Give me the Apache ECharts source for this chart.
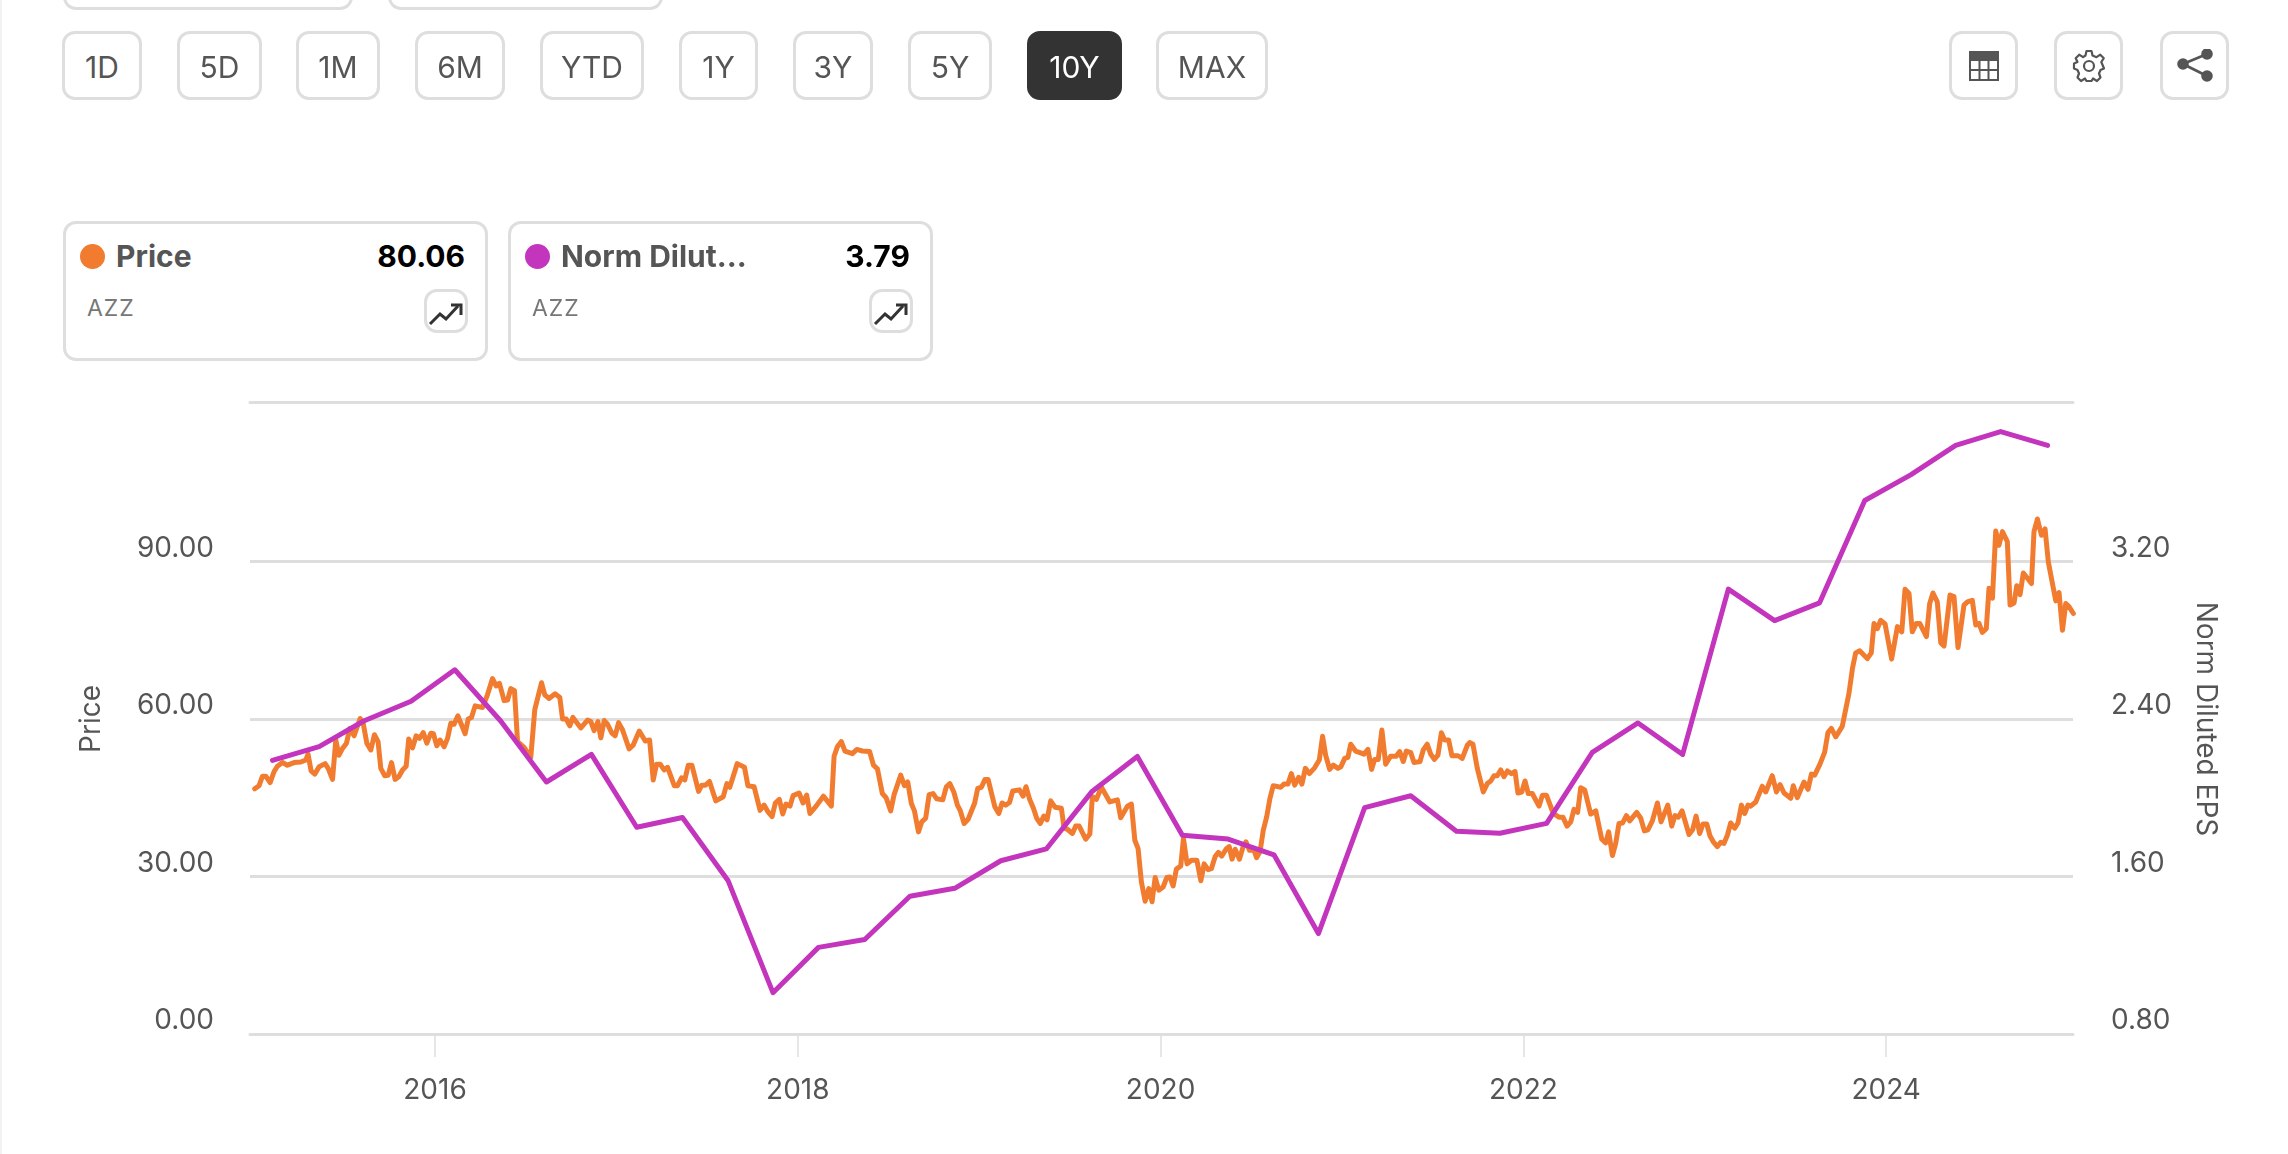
<!DOCTYPE html>
<html>
<head>
<meta charset="utf-8">
<title>AZZ Price and Norm Diluted EPS</title>
<script src="https://cdn.jsdelivr.net/npm/echarts@6/dist/echarts.min.js"></script>
<style>
  html, body { margin: 0; padding: 0; background: #fff; width: 2288px; height: 1154px; overflow: hidden; }
  body { position: relative; font-family: Inter, "Liberation Sans", sans-serif; color: #555; border-left: 2px solid #f2f2f2; box-sizing: border-box; }
  .box { position: absolute; box-sizing: border-box; border: 3px solid #dedede; border-radius: 13px; background: #fff; }
  .btn { top: 31px; height: 69px; display: flex; align-items: center; justify-content: center; font-size: 30px; padding-top: 2px; }
  .btn.on { background: #333; border-color: #333; color: #fff; }
  .dot { position: absolute; width: 25px; height: 25px; border-radius: 50%; top: 244px; }
  .txt { position: absolute; white-space: nowrap; }
  #chart { position: absolute; left: -2px; top: 0; width: 2288px; height: 1154px; }
</style>
</head>
<body>
<div id="chart"></div>
<div id="ui"></div>
<script>
const priceYears = [
  2015.006, 2015.030, 2015.049, 2015.067, 2015.091, 2015.113, 2015.131, 2015.159, 2015.186, 2015.223, 2015.260, 2015.288,
  2015.300, 2015.317, 2015.337, 2015.361, 2015.394, 2015.411, 2015.435, 2015.453, 2015.470, 2015.490, 2015.512, 2015.530,
  2015.554, 2015.587, 2015.604, 2015.624, 2015.646, 2015.666, 2015.686, 2015.701, 2015.723, 2015.742, 2015.760, 2015.780,
  2015.800, 2015.821, 2015.841, 2015.855, 2015.876, 2015.896, 2015.914, 2015.935, 2015.955, 2015.977, 2015.991,
  2016.010, 2016.028, 2016.050, 2016.069, 2016.087, 2016.105, 2016.126, 2016.146, 2016.166, 2016.183, 2016.201, 2016.221,
  2016.262, 2016.289, 2016.317, 2016.337, 2016.355, 2016.381, 2016.400, 2016.418, 2016.438, 2016.455, 2016.491, 2016.528,
  2016.550, 2016.587, 2016.605, 2016.629, 2016.662, 2016.688, 2016.703, 2016.723, 2016.743, 2016.760, 2016.804, 2016.841,
  2016.859, 2016.877, 2016.898, 2016.914, 2016.933, 2016.951, 2016.975, 2016.993,
  2017.012, 2017.034, 2017.070, 2017.092, 2017.126, 2017.159, 2017.183, 2017.203, 2017.221, 2017.241, 2017.263, 2017.282,
  2017.319, 2017.337, 2017.359, 2017.377, 2017.396, 2017.416, 2017.453, 2017.471, 2017.491, 2017.513, 2017.548, 2017.589,
  2017.609, 2017.625, 2017.666, 2017.706, 2017.725, 2017.759, 2017.792, 2017.814, 2017.836, 2017.858, 2017.876, 2017.898,
  2017.917, 2017.935, 2017.957, 2017.974,
  2018.007, 2018.029, 2018.049, 2018.067, 2018.101, 2018.141, 2018.185, 2018.200, 2018.218, 2018.240, 2018.260, 2018.301,
  2018.325, 2018.356, 2018.396, 2018.417, 2018.439, 2018.466, 2018.487, 2018.512, 2018.531, 2018.567, 2018.588, 2018.606,
  2018.626, 2018.643, 2018.665, 2018.683, 2018.705, 2018.724, 2018.746, 2018.766, 2018.799, 2018.819, 2018.838, 2018.860,
  2018.880, 2018.895, 2018.917, 2018.939, 2018.975, 2018.992,
  2019.012, 2019.032, 2019.049, 2019.086, 2019.108, 2019.126, 2019.146, 2019.167, 2019.185, 2019.222, 2019.242, 2019.258,
  2019.279, 2019.299, 2019.317, 2019.337, 2019.356, 2019.374, 2019.394, 2019.418, 2019.453, 2019.468, 2019.486, 2019.514,
  2019.532, 2019.551, 2019.587, 2019.610, 2019.624, 2019.646, 2019.674, 2019.720, 2019.762, 2019.780, 2019.817, 2019.839,
  2019.858, 2019.876, 2019.894, 2019.915, 2019.935, 2019.953, 2019.970, 2019.990,
  2020.014, 2020.034, 2020.052, 2020.069, 2020.087, 2020.111, 2020.126, 2020.146, 2020.170, 2020.200, 2020.222, 2020.240,
  2020.262, 2020.280, 2020.301, 2020.319, 2020.337, 2020.363, 2020.378, 2020.394, 2020.411, 2020.435, 2020.455, 2020.471,
  2020.490, 2020.515, 2020.529, 2020.548, 2020.566, 2020.585, 2020.603, 2020.621, 2020.662, 2020.680, 2020.702, 2020.721,
  2020.739, 2020.761, 2020.779, 2020.798, 2020.820, 2020.849, 2020.875, 2020.893, 2020.910, 2020.932, 2020.952, 2020.978, 2020.994,
  2021.015, 2021.033, 2021.048, 2021.075, 2021.099, 2021.121, 2021.143, 2021.163, 2021.180, 2021.200, 2021.220, 2021.241,
  2021.268, 2021.299, 2021.318, 2021.338, 2021.355, 2021.379, 2021.397, 2021.430, 2021.448, 2021.470, 2021.489, 2021.509,
  2021.529, 2021.548, 2021.566, 2021.588, 2021.606, 2021.640, 2021.663, 2021.691, 2021.704, 2021.722, 2021.746, 2021.779,
  2021.801, 2021.820, 2021.838, 2021.856, 2021.875, 2021.893, 2021.912, 2021.934, 2021.954, 2021.970, 2021.991,
  2022.009, 2022.027, 2022.049, 2022.086, 2022.105, 2022.127, 2022.165, 2022.196, 2022.218, 2022.241, 2022.261, 2022.279,
  2022.299, 2022.316, 2022.338, 2022.371, 2022.399, 2022.432, 2022.454, 2022.470, 2022.491, 2022.509, 2022.527, 2022.547,
  2022.568, 2022.586, 2022.625, 2022.647, 2022.667, 2022.687, 2022.711, 2022.739, 2022.759, 2022.796, 2022.818, 2022.836,
  2022.854, 2022.875, 2022.913, 2022.933, 2022.952, 2022.972, 2022.990,
  2023.011, 2023.029, 2023.047, 2023.069, 2023.088, 2023.106, 2023.125, 2023.143, 2023.165, 2023.183, 2023.202, 2023.220,
  2023.238, 2023.253, 2023.281, 2023.317, 2023.336, 2023.372, 2023.395, 2023.415, 2023.437, 2023.474, 2023.488, 2023.510,
  2023.547, 2023.569, 2023.588, 2023.606, 2023.635, 2023.661, 2023.679, 2023.698, 2023.722, 2023.758, 2023.795, 2023.814,
  2023.832, 2023.854, 2023.896, 2023.918, 2023.933, 2023.951, 2023.970, 2023.994,
  2024.030, 2024.062, 2024.086, 2024.104, 2024.126, 2024.144, 2024.166, 2024.185, 2024.222, 2024.240, 2024.258, 2024.282,
  2024.301, 2024.319, 2024.352, 2024.374, 2024.396, 2024.429, 2024.448, 2024.475, 2024.494, 2024.512, 2024.530, 2024.552,
  2024.567, 2024.586, 2024.604, 2024.622, 2024.641, 2024.668, 2024.683, 2024.705, 2024.720, 2024.738, 2024.756, 2024.779,
  2024.801, 2024.815, 2024.834, 2024.856, 2024.876, 2024.894, 2024.935, 2024.953, 2024.972, 2024.990,
  2025.008, 2025.032
]
const priceValues = [
  46.7, 47.3, 49.1, 49.1, 47.9, 50.0, 51.0, 51.7, 51.2, 51.7, 51.8, 52.2,
  53.3, 50.1, 49.5, 50.9, 51.5, 50.6, 48.5, 56.0, 53.1, 54.4, 55.4, 58.2,
  56.8, 60.1, 59.2, 55.4, 54.1, 57.0, 55.7, 50.6, 49.2, 49.3, 51.7, 48.5,
  49.0, 50.3, 51.0, 56.2, 54.5, 56.8, 56.3, 57.4, 55.4, 57.3, 57.2,
  54.9, 56.0, 54.7, 56.3, 59.2, 59.0, 60.6, 58.9, 57.2, 60.0, 60.3, 62.5,
  62.2, 64.6, 67.7, 66.3, 66.8, 63.5, 63.6, 65.8, 65.4, 55.7, 54.6, 52.7,
  61.8, 66.9, 64.6, 63.9, 64.8, 64.1, 60.0, 60.0, 58.7, 60.3, 58.3, 59.8,
  59.5, 57.8, 59.5, 56.4, 59.7, 59.0, 57.3, 56.8,
  59.3, 57.9, 54.3, 55.0, 57.7, 55.8, 56.0, 48.4, 51.4, 51.4, 50.3, 50.8,
  47.3, 47.3, 48.8, 48.4, 51.2, 51.2, 46.2, 47.4, 47.4, 48.1, 44.4, 45.2,
  47.7, 47.0, 51.5, 50.8, 47.3, 47.1, 42.6, 43.6, 42.3, 41.4, 44.0, 44.7,
  41.9, 43.8, 43.4, 45.4,
  45.9, 44.0, 45.5, 42.0, 43.4, 45.3, 43.4, 52.9, 54.7, 55.7, 53.9, 53.4,
  54.2, 53.9, 53.8, 51.2, 50.5, 45.8, 45.0, 42.5, 45.6, 49.3, 47.3, 48.0,
  43.9, 42.5, 38.5, 40.4, 41.1, 45.6, 45.8, 44.8, 44.6, 47.1, 47.7, 46.1,
  43.6, 42.6, 40.1, 40.9, 44.0, 46.8,
  47.0, 48.5, 48.5, 43.3, 42.0, 44.0, 43.6, 44.1, 46.3, 46.5, 45.3, 47.1,
  44.6, 43.0, 41.1, 40.1, 41.5, 40.8, 44.4, 43.2, 43.0, 39.2, 39.0, 38.2,
  39.6, 39.6, 37.1, 38.1, 45.2, 44.7, 47.0, 44.2, 44.6, 41.2, 43.4, 43.8,
  36.9, 35.3, 29.0, 25.3, 27.7, 25.2, 29.8, 27.4,
  28.0, 29.8, 29.9, 28.2, 31.4, 32.0, 37.2, 32.4, 33.1, 33.1, 29.2, 32.4,
  31.3, 31.5, 33.8, 34.6, 33.9, 35.3, 35.7, 33.3, 35.2, 33.3, 35.7, 36.6,
  35.0, 35.0, 33.6, 34.7, 38.8, 41.4, 44.9, 47.3, 47.0, 47.6, 47.6, 49.6,
  47.4, 48.9, 47.6, 50.6, 49.6, 50.7, 52.2, 56.7, 53.1, 50.4, 51.2, 50.6, 50.9,
  52.5, 52.7, 55.2, 53.9, 53.6, 53.3, 54.2, 50.4, 52.3, 52.3, 57.9, 51.4,
  52.9, 52.9, 53.8, 51.9, 53.9, 53.6, 51.7, 51.9, 54.1, 55.2, 53.3, 52.3,
  53.1, 57.4, 56.0, 56.0, 53.0, 53.0, 52.5, 55.0, 55.5, 55.2, 50.6, 46.1,
  47.7, 48.2, 49.2, 49.2, 50.3, 49.0, 50.1, 49.6, 50.0, 45.9, 46.1,
  48.2, 45.8, 45.8, 43.4, 45.5, 45.5, 42.0, 41.3, 41.3, 39.6, 40.4, 42.8,
  42.2, 46.9, 46.5, 41.9, 42.5, 37.1, 36.4, 38.5, 34.0, 36.3, 40.1, 40.2,
  41.6, 40.6, 42.2, 41.1, 38.7, 38.9, 40.6, 44.0, 40.4, 43.6, 39.6, 41.6,
  41.3, 42.5, 38.0, 38.9, 41.5, 38.2, 40.0,
  40.0, 37.7, 36.6, 35.7, 36.5, 36.3, 37.9, 40.2, 39.2, 40.2, 43.6, 42.0,
  43.6, 43.4, 44.2, 47.2, 46.1, 49.2, 46.1, 47.5, 45.9, 44.9, 47.3, 45.0,
  48.0, 46.6, 49.5, 49.3, 51.4, 53.7, 57.4, 58.2, 56.6, 58.6, 64.9, 69.6,
  72.6, 73.0, 71.5, 72.6, 78.2, 77.2, 78.8, 78.1,
  71.4, 77.6, 76.6, 84.7, 83.9, 76.6, 78.2, 78.2, 75.7, 82.0, 84.0, 82.3,
  74.5, 73.9, 83.6, 83.3, 73.6, 81.7, 82.3, 82.6, 77.9, 78.2, 76.5, 77.2,
  84.9, 83.0, 95.8, 93.1, 95.7, 93.8, 81.7, 82.1, 85.4, 83.7, 87.8, 86.8,
  85.8, 95.7, 98.1, 95.0, 96.2, 89.9, 82.5, 84.1, 76.9, 82.0,
  81.4, 80.1
]
const epsYears = [
  2015.104, 2015.361, 2015.607, 2015.868, 2016.109, 2016.362, 2016.614, 2016.862,
  2017.112, 2017.364, 2017.615, 2017.863, 2018.114, 2018.369, 2018.618, 2018.865,
  2019.119, 2019.370, 2019.620, 2019.872, 2020.120, 2020.372, 2020.625, 2020.870,
  2021.125, 2021.379, 2021.631, 2021.871, 2022.128, 2022.380, 2022.632, 2022.878,
  2023.130, 2023.385, 2023.633, 2023.882, 2024.135, 2024.383, 2024.631, 2024.890
]
const epsValues = [
  2.19, 2.26, 2.39, 2.49, 2.65, 2.39, 2.08, 2.22,
  1.85, 1.90, 1.58, 1.01, 1.24, 1.28, 1.50, 1.54,
  1.68, 1.74, 2.03, 2.21, 1.81, 1.79, 1.71, 1.31,
  1.95, 2.01, 1.83, 1.82, 1.87, 2.23, 2.38, 2.22,
  3.06, 2.90, 2.99, 3.51, 3.64, 3.79, 3.86, 3.79
]
const yearTicks = [2016, 2018, 2020, 2022, 2024]
const rangeButtons = ['1D', '5D', '1M', '6M', 'YTD', '1Y', '3Y', '5Y', '10Y', 'MAX']
const activeRange = '10Y'

const orange = '#f17c30'
const purple = '#c335bd'
const gridColor = '#dedede'
const textColor = '#555'

// page chrome around the chart
const ui = document.getElementById('ui')
const buttonEdges = [[62, 142], [177, 262], [296, 380], [415, 505], [540, 644], [679, 758], [793, 873], [908, 992], [1027, 1122], [1156, 1268]]
const trendIcon = '<svg width="38" height="39" viewBox="0 0 38 39" fill="none" stroke="#333" stroke-width="3" style="position:absolute;left:0;top:0"><path d="M3 32 L13 22 L19 27 L31 14"/><path d="M24 13 H34 V23"/></svg>'

function add(html) {
  ui.insertAdjacentHTML('beforeend', html)
}

add('<div class="box" style="left:61px;top:-40px;width:290px;height:50px"></div>')
add('<div class="box" style="left:386px;top:-40px;width:275px;height:50px"></div>')

rangeButtons.forEach((label, i) => {
  const [a, b] = buttonEdges[i]
  const cls = label === activeRange ? 'box btn on' : 'box btn'
  add(`<div class="${cls}" style="left:${a - 2}px;width:${b - a}px">${label}</div>`)
})

function card(left, width, color, name, value) {
  add(`<div class="box" style="left:${left - 2}px;top:221px;width:${width}px;height:140px"></div>`)
  add(`<div class="dot" style="left:${left + 15}px;background:${color}"></div>`)
  add(`<div class="txt" style="left:${left + 51}px;top:238px;font-size:30px;font-weight:700;line-height:36px">${name}</div>`)
  add(`<div class="txt" style="left:${left + width - 23 - 200 - 2}px;width:200px;text-align:right;top:238px;font-size:30px;font-weight:700;line-height:36px;color:#000">${value}</div>`)
  add(`<div class="txt" style="left:${left + 22}px;top:294px;font-size:23px;letter-spacing:1px;line-height:28px;color:#777">AZZ</div>`)
  add(`<div class="box" style="left:${left + width - 66}px;top:289px;width:44px;height:44px">${trendIcon}</div>`)
}
card(63, 425, orange, 'Price', '80.06')
card(508, 425, purple, 'Norm Dilut...', '3.79')

function iconBox(left, svg) {
  add(`<div class="box btn" style="left:${left - 2}px;width:69px;padding-top:0">${svg}</div>`)
}
iconBox(1949, '<svg width="30" height="30" viewBox="0 0 30 30" fill="none" stroke="#555" stroke-width="2"><rect x="1" y="1" width="28" height="28"/><rect x="1" y="1" width="28" height="8" fill="#555"/><path d="M10.5 9 V29 M19.5 9 V29 M1 19 H29"/></svg>')
iconBox(2054, '<svg width="34" height="34" viewBox="0 0 34 34" fill="none" stroke="#555" stroke-width="2.2" stroke-linejoin="round"><circle cx="17" cy="17" r="5"/><path d="M14.5 2 H19.5 L20.5 6.5 L24.5 8.2 L28.3 5.7 L31.8 9.2 L29.3 13 L31 17 L32 19.5 L28.5 21 L27 24.5 L28.5 28.5 L25 32 L21 29.5 L19.5 32 H14.5 L13 29.5 L9 32 L5.5 28.5 L7 24.5 L5.5 21 L2 19.5 V14.5 L5.5 13 L3.7 9.2 L7.2 5.7 L11 8.2 L13.5 6.5 Z"/></svg>')
iconBox(2160, '<svg width="36" height="34" viewBox="0 0 36 34" fill="#555" stroke="#555" stroke-width="2.6"><path d="M6 15 L30 5 M6 15 L30 27" fill="none"/><circle cx="6" cy="15" r="4.5"/><circle cx="30" cy="5" r="4.5"/><circle cx="30" cy="27" r="4.5"/></svg>')

// chart
const chart = echarts.init(document.getElementById('chart'), null, { renderer: 'canvas' })
const axisText = { color: textColor, fontSize: 28, fontFamily: 'Inter' }
const nameText = { color: textColor, fontSize: 28, fontFamily: 'Inter' }

chart.setOption({
  animation: false,
  grid: { left: 250, top: 404, width: 1823, height: 630 },
  xAxis: [
    {
      type: 'value',
      min: 2014.98,
      max: 2025.03,
      splitLine: { show: false },
      axisLine: { lineStyle: { color: gridColor, width: 3 } },
      axisTick: { customValues: yearTicks, length: 23, lineStyle: { color: gridColor, width: 1.5 } },
      axisLabel: { ...axisText, customValues: yearTicks, margin: 43, formatter: v => String(Math.round(v)) }
    },
    {
      // the top rule sits slightly above the 120 level
      type: 'value',
      position: 'top',
      offset: 2,
      min: 2014.98,
      max: 2025.03,
      splitLine: { show: false },
      axisLine: { lineStyle: { color: gridColor, width: 3 } },
      axisTick: { show: false },
      axisLabel: { show: false }
    }
  ],
  yAxis: [
    {
      type: 'value',
      name: 'Price',
      nameLocation: 'middle',
      nameGap: 144,
      nameTextStyle: nameText,
      min: 0,
      max: 120,
      interval: 30,
      axisLine: { show: false },
      axisTick: { show: false },
      splitLine: { showMaxLine: false, showMinLine: false, lineStyle: { color: gridColor, width: 3 } },
      axisLabel: { ...axisText, margin: 36, verticalAlign: 'bottom', lineHeight: 26, showMaxLabel: false, formatter: v => v.toFixed(2) }
    },
    {
      type: 'value',
      name: 'Norm Diluted EPS',
      nameLocation: 'middle',
      nameGap: 118,
      nameRotate: -90,
      nameTextStyle: nameText,
      min: 0.8,
      max: 4,
      interval: 0.8,
      axisLine: { show: false },
      axisTick: { show: false },
      splitLine: { show: false },
      axisLabel: { ...axisText, margin: 38, verticalAlign: 'bottom', lineHeight: 26, showMaxLabel: false, formatter: v => v.toFixed(2) }
    }
  ],
  series: [
    {
      name: 'Price',
      type: 'line',
      xAxisIndex: 0,
      yAxisIndex: 0,
      showSymbol: false,
      data: priceYears.map((y, i) => [y, priceValues[i]]),
      lineStyle: { color: orange, width: 5, cap: 'round', join: 'round' }
    },
    {
      name: 'Norm Diluted EPS',
      type: 'line',
      xAxisIndex: 0,
      yAxisIndex: 1,
      showSymbol: false,
      data: epsYears.map((y, i) => [y, epsValues[i]]),
      lineStyle: { color: purple, width: 5, cap: 'round', join: 'round' }
    }
  ]
})
</script>
</body>
</html>
